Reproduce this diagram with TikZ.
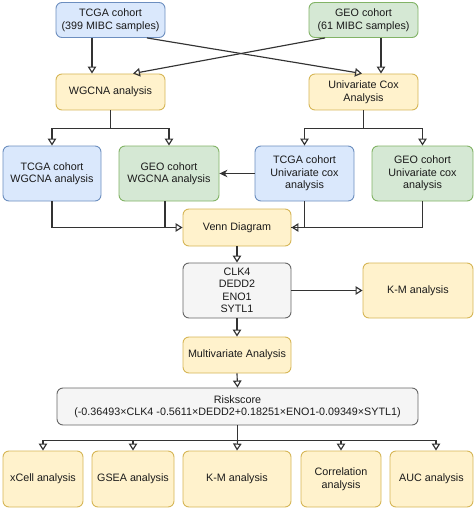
\documentclass[tikz,border=0pt]{standalone}
\usepackage{fontspec}
\setmainfont{Liberation Sans}
\usetikzlibrary{arrows.meta}
\definecolor{bfill}{HTML}{DAE8FC}\definecolor{bdraw}{HTML}{6C8EBF}
\definecolor{gfill}{HTML}{D5E8D4}\definecolor{gdraw}{HTML}{82B366}
\definecolor{yfill}{HTML}{FFF2CC}\definecolor{ydraw}{HTML}{D6B656}
\definecolor{kfill}{HTML}{F5F5F5}\definecolor{kdraw}{HTML}{666666}
\definecolor{linec}{HTML}{333333}
\definecolor{txt}{HTML}{1A1A1A}
\tikzset{
  box/.style={rounded corners=6pt, line width=0.9pt, align=center, inner sep=2pt,
    text=txt, font=\fontsize{10.75}{12.5}\selectfont},
  bluebox/.style={box, fill=bfill, draw=bdraw},
  greenbox/.style={box, fill=gfill, draw=gdraw},
  yellowbox/.style={box, fill=yfill, draw=ydraw},
  graybox/.style={box, fill=kfill, draw=kdraw},
  sz/.style 2 args={minimum width=#1pt, minimum height=#2pt},
  conn/.style={draw=linec, line width=1.15pt},
  oarrow/.style={conn, -{Triangle[open, length=7pt, width=8.5pt]}},
  farrow/.style={conn, -{Stealth[length=8pt, width=7.5pt]}},
}
\begin{document}
\begin{tikzpicture}[x=1pt,y=-1pt]
\useasboundingbox (0,0) rectangle (474,508);
% row 1
\node[bluebox, sz={109}{35}] (tcga) at (110.5,20) {TCGA cohort\\(399 MIBC samples)};
\node[greenbox, sz={109}{35}] (geo) at (363.5,20) {GEO cohort\\(61 MIBC samples)};
% row 2
\node[yellowbox, sz={109}{36}] (wgcna) at (110.5,92) {WGCNA analysis};
\node[yellowbox, sz={109}{36}] (uni) at (363.5,92) {Univariate Cox\\Analysis};
% row 3
\node[bluebox, sz={98}{55}] (tw) at (52,173.5) {TCGA cohort\\WGCNA analysis};
\node[greenbox, sz={100}{55}] (gw) at (169,173.5) {GEO cohort\\WGCNA analysis};
\node[bluebox, sz={99}{55}] (tu) at (304.5,173.5) {TCGA cohort\\Univariate cox\\analysis};
\node[greenbox, sz={101}{55}] (gu) at (422.5,173.5) {GEO cohort\\Univariate cox\\analysis};
% venn
\node[yellowbox, sz={108}{37}] (venn) at (237,227.5) {Venn Diagram};
\node[graybox, sz={108}{55}] (genes) at (237,290.5) {CLK4\\DEDD2\\ENO1\\SYTL1};
\node[yellowbox, sz={110}{55}] (km1) at (418,290.5) {K-M analysis};
\node[yellowbox, sz={108}{36}] (multi) at (237,355) {Multivariate Analysis};
\node[graybox, sz={361}{37}] (risk) at (237.5,406.5) {Riskscore\\(-0.36493×CLK4 -0.5611×DEDD2+0.18251×ENO1-0.09349×SYTL1)};
% bottom
\node[yellowbox, sz={80}{56}] (xcell) at (43,479) {xCell analysis};
\node[yellowbox, sz={82}{56}] (gsea) at (133,479) {GSEA analysis};
\node[yellowbox, sz={108}{56}] (km2) at (237,479) {K-M analysis};
\node[yellowbox, sz={80}{56}] (corr) at (341,479) {Correlation\\analysis};
\node[yellowbox, sz={83}{56}] (auc) at (431.5,479) {AUC analysis};
% connectors top
\draw[oarrow] ([xshift=-18.5pt]tcga.south) -- ([xshift=-18.5pt]wgcna.north);
\draw[oarrow] ([xshift=36.5pt]tcga.south) -- ([xshift=-1.5pt]uni.north);
\draw[oarrow] ([xshift=-38.5pt]geo.south) -- ([xshift=22.5pt]wgcna.north);
\draw[oarrow] ([xshift=17.5pt]geo.south) -- ([xshift=17.5pt]uni.north);
% to row 3
\coordinate (wj) at ([yshift=-18pt]wgcna.south);
\coordinate (uj) at ([yshift=-18pt]uni.south);
\draw[conn] (wgcna.south) -- (wj);
\draw[oarrow] (wj) -| (tw.north);
\draw[oarrow] (wj) -| (gw.north);
\draw[conn] (uni.south) -- (uj);
\draw[oarrow] (uj) -| (tu.north);
\draw[oarrow] (uj) -| (gu.north);
\draw[farrow] (tu.west) -- (gw.east);
% to venn
\draw[oarrow] (tw.south) |- (venn.west);
\draw[conn] ([xshift=-4pt]gw.south) -- ([xshift=-4pt]gw.south |- venn.west);
\draw[oarrow] (tu.south) |- (venn.east);
\draw[conn] (gu.south) |- (venn.east);
% middle chain
\draw[oarrow] (venn.south) -- (genes.north);
\draw[oarrow] (genes.east) -- (km1.west);
\draw[oarrow] (genes.south) -- (multi.north);
\draw[oarrow] (multi.south) -- (risk.north);
% bottom fan
\coordinate (rj) at ([yshift=-15pt]risk.south);
\draw[conn] (risk.south) -- (rj);
\draw[oarrow] (rj) -| (xcell.north);
\draw[oarrow] (rj) -| (gsea.north);
\draw[oarrow] (rj) -- (km2.north);
\draw[oarrow] (rj) -| (corr.north);
\draw[oarrow] (rj) -| ([xshift=4.5pt]auc.north);
\end{tikzpicture}
\end{document}
